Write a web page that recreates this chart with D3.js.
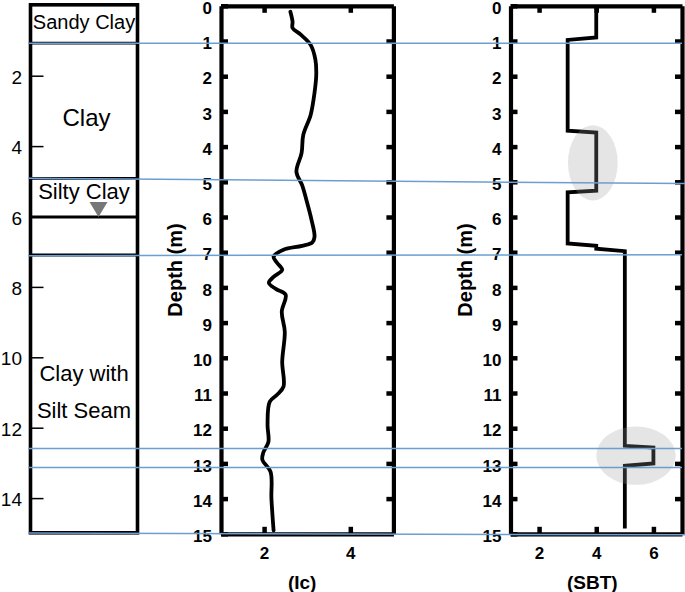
<!DOCTYPE html>
<html>
<head>
<meta charset="utf-8">
<script src="https://cdn.jsdelivr.net/npm/d3@7"></script>
<style>
  html, body { margin: 0; padding: 0; background: #fff; }
  svg { display: block; font-family: "Liberation Sans", Arial, sans-serif; }
  .axis text { font-size: 17px; font-weight: bold; fill: #000; }
  .axis path { stroke: #000; stroke-width: 4.2; }
  .axis line { stroke: #000; stroke-width: 4.5; }
  .title { font-size: 19px; font-weight: bold; text-anchor: middle; }
</style>
</head>
<body>
<script>
// soil layers of the first column
const layerNames = ['Sandy Clay', 'Clay', 'Silty Clay', 'Clay with', 'Silt Seam'];
const layerNameDepths = [0.47, 3.18, 5.27, 10.45, 11.48];
const layerNameSizes = [20, 24, 22, 22, 22];
const layerBreaks = [1.06, 4.9, 6, 7.08];
const waterTable = 6;
const columnTicks = [2, 4, 6, 8, 10, 12, 14];

// depth axis shared by all the panels
const depthTicks = d3.range(0, 16);

// cone index profile
const icDepth = [0.17, 0.45, 0.63, 0.82, 1.11, 1.53, 1.96, 2.47, 3.1, 3.66, 4.18, 4.72, 5.09, 5.51, 6.08, 6.56, 6.72, 6.82, 6.93, 7.13, 7.3, 7.5, 7.7, 7.87, 8.05, 8.21, 8.69, 9.26, 10.11, 10.82, 11.05, 11.25, 11.9, 12.39, 12.7, 12.9, 13.24, 14, 14.9];
const icValue = [2.61, 2.66, 2.66, 2.85, 3.08, 3.19, 3.21, 3.17, 3.08, 2.91, 2.87, 2.75, 2.88, 2.98, 3.1, 3.17, 3.12, 2.88, 2.45, 2.22, 2.3, 2.42, 2.22, 2.11, 2.28, 2.5, 2.41, 2.48, 2.42, 2.45, 2.3, 2.13, 2.08, 2.1, 1.98, 1.96, 2.15, 2.17, 2.22];
const icTicks = [2, 4];

// soil behaviour type profile
const sbtDepth = [0, 0.9, 0.97, 3.55, 3.6, 5.25, 5.3, 6.75, 6.82, 6.9, 6.97, 12.5, 12.55, 13, 13.07, 14.85];
const sbtValue = [4, 4, 3, 3, 4, 4, 3, 3, 4, 4, 5, 5, 6, 6, 5, 5];
const sbtTicks = [2, 4, 6];

// highlighted zones on the SBT panel
const zoneSbt = [3.88, 5.39];
const zoneDepth = [4.46, 12.78];
const zoneSbtRadius = [0.87, 1.39];
const zoneDepthRadius = [1.07, 0.83];

// blue correlation lines, depth at the left and right end
const lineDepthStart = [1.065, 4.9, 7.1, 12.58, 13.12, 14.98];
const lineDepthEnd = [1.065, 5.05, 7.07, 12.58, 13.12, 15.03];

const width = 685;
const height = 592;

const svg = d3.select('body')
  .append('svg')
  .attr('width', width)
  .attr('height', height);

const yScale = d3.scaleLinear().domain([0, 15]).range([5.8, 533.8]);

// FIRST COLUMN
const columnLeft = 30.5;
const columnRight = 137.5;

const column = svg.append('g');

column.append('rect')
  .attr('x', columnLeft)
  .attr('y', yScale(0) - 1)
  .attr('width', columnRight - columnLeft)
  .attr('height', yScale(15) - yScale(0))
  .attr('fill', 'none')
  .attr('stroke', '#000')
  .attr('stroke-width', 3.6);

column.selectAll('.break')
  .data(layerBreaks)
  .enter()
  .append('line')
  .attr('x1', columnLeft)
  .attr('x2', columnRight)
  .attr('y1', d => yScale(d))
  .attr('y2', d => yScale(d))
  .attr('stroke', '#000')
  .attr('stroke-width', 2.8);

column.selectAll('.tick-mark')
  .data(columnTicks)
  .enter()
  .append('line')
  .attr('x1', columnLeft)
  .attr('x2', columnLeft + 13)
  .attr('y1', d => yScale(d))
  .attr('y2', d => yScale(d))
  .attr('stroke', '#000')
  .attr('stroke-width', 1.5);

column.selectAll('.tick-label')
  .data(columnTicks)
  .enter()
  .append('text')
  .attr('x', 22)
  .attr('y', d => yScale(d))
  .attr('dy', '0.4em')
  .attr('text-anchor', 'end')
  .attr('font-size', 19)
  .text(d => d);

column.selectAll('.layer')
  .data(layerNames)
  .enter()
  .append('text')
  .attr('x', (d, i) => (i === 1 ? 86.5 : 84))
  .attr('y', (d, i) => yScale(layerNameDepths[i]))
  .attr('dy', '0.35em')
  .attr('text-anchor', 'middle')
  .attr('font-size', (d, i) => layerNameSizes[i])
  .text(d => d);

// water table marker
column.append('path')
  .attr('d', 'M-9,-15 L9,-15 L0,0 Z')
  .attr('transform', `translate(98.5 ${yScale(waterTable)})`)
  .attr('fill', '#777');

// adds the four sided frame, with ticks pointing inwards
function includeFrame(xScale, xTicks, xTitle, xTitleShift, depthTitleX) {
  const [left, right] = xScale.range();
  const frame = svg.append('g');

  frame.append('g')
    .attr('class', 'axis')
    .attr('transform', `translate(${left} 0)`)
    .call(d3.axisLeft(yScale).tickValues(depthTicks).tickSize(-7).tickSizeOuter(0).tickPadding(9))
    .selectAll('text')
    .attr('dy', '0.45em');

  frame.append('g')
    .attr('class', 'axis')
    .attr('transform', `translate(${right} 0)`)
    .call(d3.axisRight(yScale).tickValues(depthTicks.slice(1, -1)).tickSize(-7).tickSizeOuter(0).tickFormat(''));

  frame.append('g')
    .attr('class', 'axis')
    .attr('transform', `translate(0 ${yScale(0)})`)
    .call(d3.axisTop(xScale).tickValues(xTicks).tickSize(-7).tickSizeOuter(0).tickFormat(''));

  frame.append('g')
    .attr('class', 'axis')
    .attr('transform', `translate(0 ${yScale(15)})`)
    .call(d3.axisBottom(xScale).tickValues(xTicks).tickSize(-7).tickSizeOuter(0).tickPadding(13).tickFormat(d3.format('d')));

  frame.append('text')
    .attr('class', 'title')
    .attr('x', (left + right) / 2 + xTitleShift)
    .attr('y', 589)
    .text(xTitle);

  frame.append('text')
    .attr('class', 'title')
    .attr('transform', `translate(${depthTitleX} 270) rotate(-90)`)
    .style('font-size', '20px')
    .text('Depth (m)');
}

// Ic PANEL
const xIc = d3.scaleLinear().domain([1, 5]).range([221, 393.4]);
includeFrame(xIc, icTicks, '(Ic)', -5, 182);

const icLine = d3.line()
  .x(d => xIc(d[0]))
  .y(d => yScale(d[1]))
  .curve(d3.curveCatmullRom);

svg.append('path')
  .attr('d', icLine(d3.zip(icValue, icDepth)))
  .attr('fill', 'none')
  .attr('stroke', '#000')
  .attr('stroke-width', 3.8)
  .attr('stroke-linecap', 'round');

// SBT PANEL
const xSbt = d3.scaleLinear().domain([1, 7]).range([510.5, 682]);
includeFrame(xSbt, sbtTicks, '(SBT)', -4, 472);

const sbtLine = d3.line()
  .x(d => xSbt(d[0]))
  .y(d => yScale(d[1]));

svg.append('path')
  .attr('d', sbtLine(d3.zip(sbtValue, sbtDepth)))
  .attr('fill', 'none')
  .attr('stroke', '#000')
  .attr('stroke-width', 3.8);

// translucent zones above the line
svg.selectAll('.zone')
  .data(zoneSbt)
  .enter()
  .append('ellipse')
  .attr('cx', d => xSbt(d))
  .attr('cy', (d, i) => yScale(zoneDepth[i]))
  .attr('rx', (d, i) => xSbt(zoneSbtRadius[i]) - xSbt(0))
  .attr('ry', (d, i) => yScale(zoneDepthRadius[i]) - yScale(0))
  .attr('fill', '#999')
  .attr('opacity', 0.26);

// CORRELATION LINES across all panels
svg.selectAll('.correlation')
  .data(lineDepthStart)
  .enter()
  .append('line')
  .attr('x1', 28)
  .attr('x2', (d, i) => (i === 1 || i === 5 ? 685 : 682))
  .attr('y1', d => yScale(d))
  .attr('y2', (d, i) => yScale(lineDepthEnd[i]))
  .attr('stroke', '#6c9fd0')
  .attr('stroke-width', 1.5);
</script>
</body>
</html>
